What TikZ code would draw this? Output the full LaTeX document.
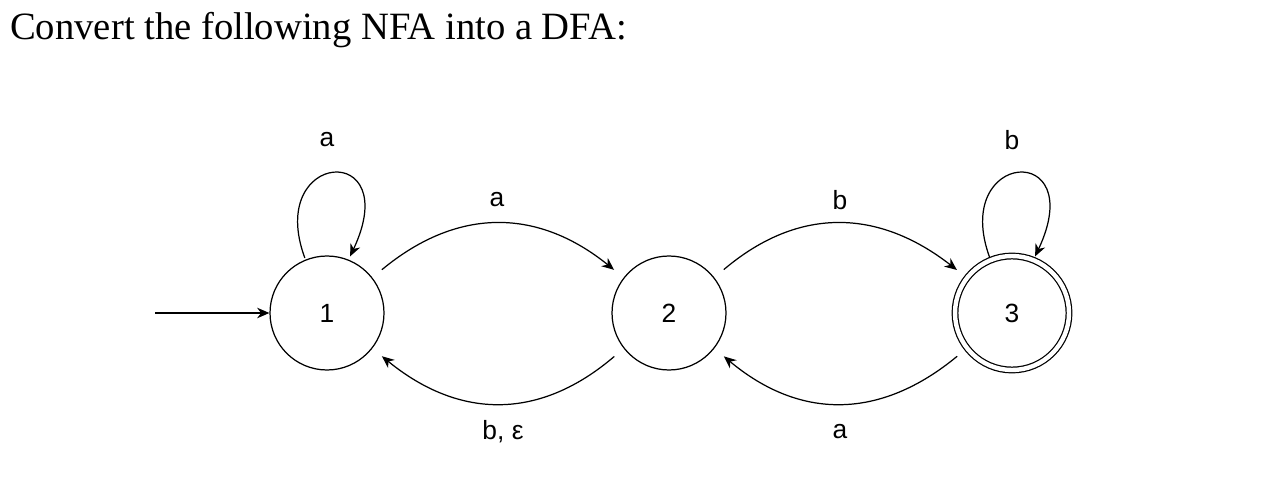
\documentclass[tikz,border=0pt]{standalone}
\usepackage{fontspec}
\setmainfont{Liberation Serif}
\newfontfamily\lab{Liberation Sans}
\usetikzlibrary{arrows.meta}
\begin{document}
\begin{tikzpicture}[x=0.02cm,y=-0.02cm,
  st/.style={circle,draw,line width=0.7pt,minimum size=2.28cm,inner sep=0pt,font=\lab\fontsize{15}{17}\selectfont},
  lbl/.style={font=\lab\fontsize{15}{17}\selectfont},
  tr/.style={-{Stealth[length=7pt,width=6pt]},line width=0.7pt}]
\useasboundingbox (0,0) rectangle (1270,489);
\node[anchor=west,font=\fontsize{22}{26}\selectfont] (title) at (4,30) {Convert the following NFA into a DFA:};
\node[st] (n1) at (327,313) {1};
\node[st] (n2) at (669,313) {2};
\node[st,double,double distance=2.5pt] (n3) at (1012,313) {3};
\coordinate (start) at (155,313);
\draw[tr] (start) -- (n1);
\draw[tr,shorten <=1pt,shorten >=2pt] (n1.112) .. controls (265,150) and (405,140) .. (n1.68);
\draw[tr,shorten <=1pt,shorten >=2pt] (n3.112) .. controls (950,150) and (1090,140) .. (n3.68);
\draw[tr,shorten <=7pt,shorten >=7pt] (n1.38) .. controls (460,205) and (540,210) .. (n2.142);
\draw[tr,shorten <=7pt,shorten >=7pt] (n2.-142) .. controls (540,420) and (460,420) .. (n1.-38);
\draw[tr,shorten <=7pt,shorten >=7pt] (n2.38) .. controls (800,205) and (880,210) .. (n3.142);
\draw[tr,shorten <=7pt,shorten >=7pt] (n3.-142) .. controls (880,420) and (800,420) .. (n2.-38);
\node[lbl] (l1) at (327,140) {a};
\node[lbl] (l2) at (497,200) {a};
\node[lbl] (l3) at (503,432) {b, ε};
\node[lbl] (l4) at (840,200) {b};
\node[lbl] (l5) at (840,432) {a};
\node[lbl] (l6) at (1012,140) {b};
\end{tikzpicture}
\end{document}
